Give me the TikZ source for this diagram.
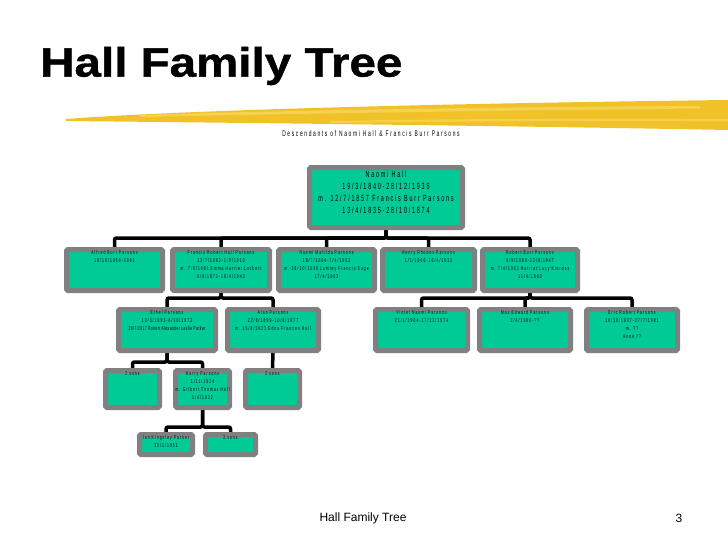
\documentclass[tikz,border=0pt]{standalone}
\usepackage{fontspec}
\usepackage{tikz}
\usetikzlibrary{backgrounds}
\setmainfont{Liberation Sans}
\newfontfamily\titlefont[FakeStretch=1.16,FakeBold=1]{Liberation Sans}
\newfontfamily\cardfont[FakeStretch=0.6,LetterSpace=20]{Liberation Sans}
\newfontfamily\tightfont[FakeStretch=0.6,LetterSpace=8]{Liberation Sans}
\definecolor{cardgreen}{RGB}{0,202,150}
\definecolor{cardgray}{RGB}{128,128,128}
\definecolor{brushyellow}{RGB}{240,194,40}
\definecolor{brushlight}{RGB}{250,222,110}
\newcommand{\cardtext}[3]{\parbox[c][#2pt][t]{#1pt}{\centering\vspace*{1pt}\cardfont\fontsize{5.5}{8}\selectfont #3}}
\tikzset{
  famcard/.style={draw=cardgray, fill=cardgreen, line width=5pt, rounded corners=1.5pt, inner sep=0pt},
  famline/.style={line width=3.5pt, black, rounded corners=2pt},
}

\begin{document}
\begin{tikzpicture}[x=1pt,y=-1pt]
\useasboundingbox (0,0) rectangle (728,546);
% heading
\node (title) at (40,66) [anchor=west, inner sep=0pt] {\titlefont\bfseries\fontsize{41}{41}\selectfont Hall Family Tree};
\fill[brushyellow] (66,119) .. controls (200,109) and (480,103) .. (728,100) -- (728,130) .. controls (520,126) and (260,123) .. (66,121) -- cycle;
\fill[brushlight, opacity=0.6] (140,115) .. controls (300,110) and (500,107) .. (700,106) -- (700,108.5) .. controls (500,110.5) and (300,113.5) .. (140,117) -- cycle;
\fill[brushlight, opacity=0.5] (330,121) .. controls (450,119) and (580,118) .. (728,119) -- (728,121.5) .. controls (580,120.5) and (450,121.5) .. (330,123) -- cycle;
\node (subtitle) at (371,134) {\cardfont\fontsize{8.2}{10}\selectfont Descendants of Naomi Hall \& Francis Burr Parsons};

% generation 1
\node (naomi) at (386,197.5) [famcard] {\parbox[c][60pt][t]{153pt}{\centering\vspace*{3pt}\cardfont\fontsize{9}{12}\selectfont Naomi Hall\\19/3/1840-28/12/1935\\m. 12/7/1857 Francis Burr Parsons\\13/4/1835-28/10/1874}};

% generation 2
\node (alfred) at (114.5,270) [famcard] {\cardtext{96}{41}{Alfred Burr Parsons\\18/10/1858-1861}};
\node (francis) at (221,270) [famcard] {\cardtext{97}{41}{Francis Robert Hall Parsons\\13/7/1862-1/8/1910\\m. 7/8/1891 Emma Harriet Lockett\\6/6/1871-16/4/1943}};
\node (matilda) at (326.5,270) [famcard] {\cardtext{96}{41}{Naomi Matilda Parsons\\18/7/1864-7/4/1952\\m. 28/10/1890 Lumley Francis Sage\\17/4/1863}};
\node (henry) at (428.5,270) [famcard] {\cardtext{92}{41}{Henry Rhodes Parsons\\1/1/1866-16/4/1932}};
\node (robert) at (530,270) [famcard] {\cardtext{95}{41}{Robert Burr Parsons\\9/9/1868-13/8/1947\\m. 7/4/1903 Harriet Lucy Kinross\\11/4/1882}};

% generation 3
\node (ethel) at (167,330) [famcard] {\cardtext{97}{41}{Ethel Parsons\\13/3/1893-6/10/1972\\{\tightfont 28/7/1917 Robert Alexander Leslie Parker}}};
\node (alan) at (273,330) [famcard] {\cardtext{91}{41}{Alan Parsons\\22/8/1899-10/8/1977\\m. 15/8/1923 Edna Frances Hall}};
\node (violet) at (421.5,330) [famcard] {\cardtext{92}{41}{Violet Naomi Parsons\\21/1/1904-17/12/1974}};
\node (max) at (525,330) [famcard] {\cardtext{91}{41}{Max Edward Parsons\\2/4/1906-??}};
\node (eric) at (632,330) [famcard] {\cardtext{91}{41}{Eric Robert Parsons\\18/10/1907-27/7/1981\\m. ??\\Anne ??}};

% generation 4
\node (sonsa) at (132.5,389) [famcard] {\cardtext{54}{37}{2 sons}};
\node (harry) at (202.5,389) [famcard] {\cardtext{54}{37}{Harry Parsons\\1/11/1924\\m. Gilbert Thomas Hall\\1/4/1922}};
\node (sonsb) at (272.5,389) [famcard] {\cardtext{54}{37}{2 sons}};

% generation 5
\node (ian) at (166,444.5) [famcard] {\cardtext{53}{20}{Ian Kingsley Parker\\30/1/1951}};
\node (sonsc) at (230.5,444.5) [famcard] {\cardtext{50}{20}{2 sons}};

% connectors
\begin{scope}[on background layer]
\coordinate (bara) at (0,238);
\coordinate (barb) at (0,298);
\coordinate (barc) at (0,362);
\coordinate (bard) at (0,427);
\foreach \c in {alfred,francis,matilda,henry,robert}
  \draw[famline] (naomi.south) |- (\c.north |- bara) -- (\c.north);
\foreach \c in {ethel,alan}
  \draw[famline] (francis.south) |- (\c.north |- barb) -- (\c.north);
\foreach \c in {violet,max,eric}
  \draw[famline] (robert.south) |- (\c.north |- barb) -- (\c.north);
\foreach \c in {sonsa,harry}
  \draw[famline] (ethel.south) |- (\c.north |- barc) -- (\c.north);
\draw[famline] (alan.south) -- (sonsb.north);
\foreach \c in {ian,sonsc}
  \draw[famline] (harry.south) |- (\c.north |- bard) -- (\c.north);
\end{scope}

% footer
\node (footer) at (363,518) {\fontsize{12}{14}\selectfont Hall Family Tree};
\node (pageno) at (679,518) {\fontsize{12}{14}\selectfont 3};
\end{tikzpicture}
\end{document}
